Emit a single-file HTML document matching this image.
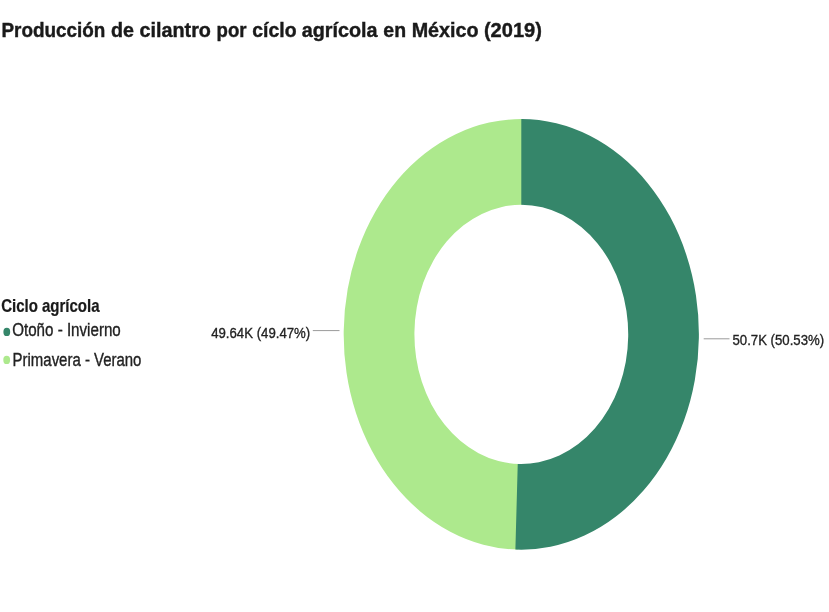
<!DOCTYPE html>
<html><head><meta charset="utf-8"><title>Producción de cilantro</title>
<style>
html,body{margin:0;padding:0;background:#fff;}
body{width:829px;height:612px;overflow:hidden;position:relative;font-family:"Liberation Sans",sans-serif;}
svg{position:absolute;left:0;top:0;display:block;}
text{font-family:"Liberation Sans",sans-serif;}
.soft{filter:blur(0.35px);}
</style></head>
<body>
<svg width="829" height="612" viewBox="0 0 829 612">
  <rect width="829" height="612" fill="#ffffff"/>
  <!-- donut: unit circle scaled to ellipse -->
  <g transform="translate(521.3,334.35) scale(177.6,215.3)">
    <!-- Primavera - Verano 49.47% -->
    <path d="M-0.019337,0.999813 A1,1 0 0 1 0.013962,-0.999903 L0.008405,-0.601941 A0.602,0.602 0 0 0 -0.011641,0.601887 Z" fill="#ADE98D"/>
    <!-- Otoño - Invierno 50.53% clockwise from top -->
    <path d="M0,-1 A1,1 0 1 1 -0.033295,0.999446 L-0.020043,0.601666 A0.602,0.602 0 1 0 0,-0.602 Z" fill="#35866A"/>
  </g>
  <g class="soft">
  <!-- leader lines -->
  <line x1="312.8" y1="330.6" x2="339.5" y2="330.6" stroke="#9a9a9a" stroke-width="1"/>
  <line x1="703.7" y1="338.8" x2="729.5" y2="338.8" stroke="#9a9a9a" stroke-width="1"/>
  <!-- legend dots -->
  <ellipse cx="6.8" cy="331.9" rx="3.4" ry="4.2" fill="#35866A"/>
  <ellipse cx="6.7" cy="359.9" rx="3.4" ry="4.2" fill="#ADE98D"/>
  <!-- title -->
  <text y="36.7" font-size="19.3" stroke="#1a1a1a" stroke-width="0.4" font-weight="bold" fill="#1a1a1a"><tspan x="1.5" textLength="103.9" lengthAdjust="spacingAndGlyphs">Producción</tspan> <tspan x="110.96" textLength="22.96" lengthAdjust="spacingAndGlyphs">de</tspan> <tspan x="139.5" textLength="71.4" lengthAdjust="spacingAndGlyphs">cilantro</tspan> <tspan x="216.6" textLength="30.0" lengthAdjust="spacingAndGlyphs">por</tspan> <tspan x="252.3" textLength="44.3" lengthAdjust="spacingAndGlyphs">cíclo</tspan> <tspan x="301.7" textLength="75.8" lengthAdjust="spacingAndGlyphs">agrícola</tspan> <tspan x="383.38" textLength="22.74" lengthAdjust="spacingAndGlyphs">en</tspan> <tspan x="411.66" textLength="66.98" lengthAdjust="spacingAndGlyphs">México</tspan> <tspan x="483.94" textLength="58.03" lengthAdjust="spacingAndGlyphs">(2019)</tspan></text>
  <!-- legend -->
  <text transform="translate(1.2,311.7) scale(1,1.22)" font-size="15" font-weight="bold" fill="#1a1a1a" stroke="#1a1a1a" stroke-width="0.2">Ciclo agrícola</text>
  <text transform="translate(12.2,336.4) scale(1,1.19)" font-size="15" textLength="108.6" lengthAdjust="spacingAndGlyphs" fill="#222" stroke="#222" stroke-width="0.3">Otoño - Invierno</text>
  <text transform="translate(12.6,365.6) scale(1,1.19)" font-size="15" textLength="128.8" lengthAdjust="spacingAndGlyphs" fill="#222" stroke="#222" stroke-width="0.3">Primavera - Verano</text>
  <!-- data labels -->
  <text transform="translate(211.2,337.5) scale(1,1.16)" font-size="13.2" fill="#222" stroke="#222" stroke-width="0.3">49.64K (49.47%)</text>
  <text transform="translate(732.5,345.2) scale(1,1.12)" font-size="13.2" fill="#222" stroke="#222" stroke-width="0.3">50.7K (50.53%)</text>
  </g>
</svg>
</body></html>
